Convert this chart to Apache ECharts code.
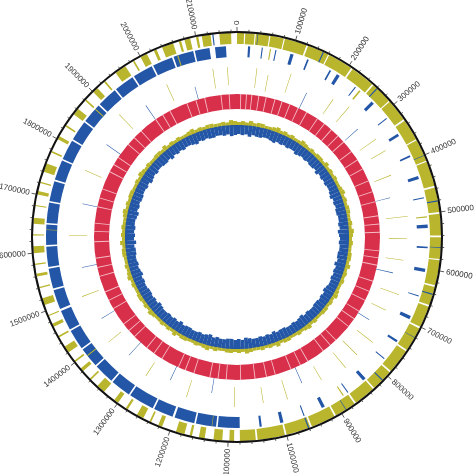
<!DOCTYPE html>
<html><head><meta charset="utf-8">
<script src="https://cdn.jsdelivr.net/npm/echarts@6/dist/echarts.min.js"></script>
<style>html,body{margin:0;padding:0;background:#fff;overflow:hidden}#c{width:100vw;height:100vh}</style>
</head><body><div id="c"></div>
<script>
const genomeLength = 2170000;
const tickValues = [0,100000,200000,300000,400000,500000,600000,700000,800000,900000,1000000,1100000,1200000,1300000,1400000,1500000,1600000,1700000,1800000,1900000,2000000,2100000];
const outerOlive = [[0,12],[14,30],[32,55],[57,80],[82,120],[123,160],[162,205],[208,250],[253,290],[292,330],[333,370],[372,410],[412,455],[458,500],[503,540],[543,580],[582,625],[628,660],[663,700],[703,745],[748,790],[793,830],[833,870],[873,910],[913,955],[958,1000],[1003,1050],[1053,1080],[1090,1098],[1110,1125],[1140,1150],[1162,1166],[1175,1190],[1215,1222],[1235,1238],[1250,1262],[1280,1284],[1300,1308],[1330,1345],[1360,1363],[1380,1386],[1400,1403],[1420,1432],[1450,1453],[1470,1476],[1490,1492],[1510,1522],[1540,1542],[1560,1565],[1580,1582],[1600,1612],[1630,1632],[1650,1660],[1680,1682],[1700,1706],[1720,1722],[1740,1755],[1775,1778],[1800,1806],[1825,1828],[1850,1862],[1880,1883],[1900,1910],[1925,1928],[1950,1970],[1985,1988],[2000,2012],[2025,2030],[2040,2060],[2070,2074],[2080,2090],[2100,2104],[2110,2125],[2140,2160]];
const outerBlue = [[35,36],[150,152],[260,262],[400,401],[480,482],[560,561],[640,642],[720,721],[810,812],[890,891],[960,962],[2128,2130]];
const innerBlue = [[20,24],[45,47],[70,72],[98,104],[130,133],[175,178],[190,196],[230,232],[270,276],[310,312],[345,350],[390,393],[430,436],[470,472],[520,526],[560,563],[600,606],[650,652],[690,696],[740,744],[780,782],[830,836],[870,872],[920,926],[960,962],[1000,1006],[1040,1044],[1080,1120],[1123,1160],[1163,1200],[1204,1240],[1243,1290],[1293,1330],[1333,1370],[1373,1410],[1413,1450],[1453,1490],[1494,1530],[1533,1570],[1573,1610],[1613,1650],[1653,1690],[1693,1730],[1733,1770],[1773,1810],[1813,1850],[1853,1890],[1893,1930],[1933,1970],[1973,2010],[2013,2050],[2053,2090],[2093,2120],[2130,2150]];
const innerOlive = [[60,62],[240,243],[505,507],[880,882],[1130,1131],[1395,1397],[1640,1641],[1880,1882],[2060,2062]];
const scatter = [[40,150,170,0],[65,148,165,0],[110,152,172,0],[155,140,160,1],[210,150,168,0],[245,152,172,0],[290,145,162,1],[330,150,170,0],[360,155,172,0],[410,148,166,0],[455,138,158,1],[500,150,172,0],[545,152,170,0],[590,150,168,0],[620,140,160,1],[660,152,172,0],[700,150,166,0],[735,138,156,1],[770,152,172,0],[810,148,168,0],[845,150,170,0],[900,150,166,0],[940,140,160,1],[980,150,170,0],[1030,152,168,0],[1090,150,170,0],[1140,140,158,1],[1190,150,168,0],[1235,140,158,1],[1285,150,166,0],[1340,140,160,1],[1390,150,166,0],[1440,140,158,1],[1500,148,166,0],[1560,142,158,1],[1630,150,168,0],[1700,140,158,1],[1770,148,166,0],[1840,140,160,1],[1905,150,170,0],[1960,142,160,1],[2020,150,168,0],[2075,138,156,1],[2120,150,170,0],[2150,152,170,0]];
const redGaps = [8,22,35,52,70,92,110,130,152,175,205,226,248,270,290,320,345,370,402,430,455,490,510,530,575,592,610,650,676,700,730,752,775,820,838,860,905,925,950,990,1012,1040,1075,1110,1130,1150,1190,1212,1230,1275,1298,1320,1360,1380,1400,1445,1468,1490,1530,1552,1575,1615,1640,1660,1700,1722,1745,1790,1810,1830,1870,1892,1915,1960,1980,2000,2045,2068,2090,2130,2150];
const gcOlive = [3,4,3,5,3,4,4,3,3,4,5,3,4,3,4,3,3,5,4,3,4,3,4,4,3,5,3,4,3,4,3,3,4,5,3,4,3,4,4,3,3,4,3,5,4,3,4,3,3,4,4,3,5,3,4,3,4,3,3,4,5,3,4,3,4,4,3,3,4,3,5,4,3,4,3,3,4,4,3,5,3,4,3,4,3,3,4,5,3,4,3,4,4,3,3,4,3,5,4,3,4,3,3,4,4,3,5,3,4,3,4,3,3,4,5,3,4,3,4,4,3,3,4,3,5,4,3,4,3,3,4,4,3,5,3,4,3,4,3,3,4,5,3,4,3,4,4,3,3,4,3,5,4,3,4,3,3,4,4,3,5,3,4,3,4,3,3,4,5,3,4,3,4,4,3,3,4,3,5,4];
const gcBlue = [9,10,9,11,9,10,10,9,9,10,11,9,10,9,10,9,9,11,10,9,10,9,10,10,9,11,9,10,9,10,9,9,10,11,9,10,9,10,10,9,9,10,9,11,10,9,10,9,9,10,10,9,11,9,10,9,10,9,9,10,11,9,10,9,10,10,9,9,10,9,11,10,9,10,9,9,10,10,9,11,9,10,9,10,9,9,10,11,9,10,9,10,10,9,9,10,9,11,10,9,10,9,9,10,10,9,11,9,10,9,10,9,9,10,11,9,10,9,10,10,9,9,10,9,11,10,9,10,9,9,10,10,9,11,9,10,9,10,9,9,10,11,9,10,9,10,10,9,9,10,9,11,10,9,10,9,9,10,10,9,11,9,10,9,10,9,9,10,11,9,10,9,10,10,9,9,10,9,11,10];

const OLIVE='#b9b52c', BLUE='#2356a6', RED='#d8304a';
const TAU=Math.PI*2;
function geo(api){
  const c=api.coord([0,0]); const e=api.coord([205,0]);
  return {x:c[0], y:c[1], k:Math.hypot(e[0]-c[0],e[1]-c[1])/205};
}
function ang(bp){ return -Math.PI/2 + bp/genomeLength*TAU; }
function sectorItem(api, s, e, r0, r, color){
  const g=geo(api);
  if (e-s < 600) { e = s+600; }
  return {type:'sector', shape:{cx:g.x,cy:g.y,r0:r0*g.k,r:r*g.k,startAngle:ang(s),endAngle:ang(e),clockwise:true}, style:{fill:color}};
}
function segSeries(arr, r0, r, color){
  return {type:'custom', coordinateSystem:'polar', silent:true, data: arr.map(d=>[d[0]*1000,d[1]*1000]),
    renderItem:(p,api)=>sectorItem(api, api.value(0), api.value(1), r0, r, color)};
}
const series = [];
series.push(segSeries(outerOlive,193,204,OLIVE));
series.push(segSeries(outerBlue,193,204,BLUE));
series.push(segSeries(innerBlue,180,191,BLUE));
series.push(segSeries(innerOlive,180,191,OLIVE));
series.push({type:'custom',coordinateSystem:'polar',silent:true,data:scatter.map(d=>[d[0]*1000,d[1],d[2],d[3]]),
  renderItem:(p,api)=>sectorItem(api, api.value(0), api.value(0)+1200, api.value(1), api.value(2), api.value(3)?BLUE:OLIVE)});
series.push({type:'custom',coordinateSystem:'polar',silent:true,data:[[0,genomeLength]],
  renderItem:(p,api)=>sectorItem(api,0,genomeLength-1,128,143,RED)});
series.push({type:'custom',coordinateSystem:'polar',silent:true,data:redGaps.map(v=>[v*1000]),
  renderItem:(p,api)=>sectorItem(api, api.value(0), api.value(0)+2200, 128, 143, 'rgba(255,235,240,0.75)')});
const bin = genomeLength/gcOlive.length;
series.push({type:'custom',coordinateSystem:'polar',silent:true,data:gcOlive.map((v,i)=>[i*bin,v]),
  renderItem:(p,api)=>sectorItem(api, api.value(0), api.value(0)+bin+200, 110, 112+api.value(1), OLIVE)});
series.push({type:'custom',coordinateSystem:'polar',silent:true,data:gcBlue.map((v,i)=>[i*bin,v]),
  renderItem:(p,api)=>sectorItem(api, api.value(0), api.value(0)+bin+200, 112-api.value(1), 112, BLUE)});
series.push({type:'custom',coordinateSystem:'polar',silent:true,data:[[0]],
  renderItem:(p,api)=>{const g=geo(api);return {type:'circle',shape:{cx:g.x,cy:g.y,r:205*g.k},style:{fill:null,stroke:'#111',lineWidth:2}};}});
const minor=[]; for(let v=0; v<genomeLength; v+=20000) minor.push([v]);
series.push({type:'custom',coordinateSystem:'polar',silent:true,data:minor,
  renderItem:(p,api)=>{const g=geo(api);const a=ang(api.value(0));const major=api.value(0)%100000===0;const l=major?5:2.5;const R=205*g.k;
    return {type:'line',shape:{x1:g.x+R*Math.cos(a),y1:g.y+R*Math.sin(a),x2:g.x+(R+l)*Math.cos(a),y2:g.y+(R+l)*Math.sin(a)},style:{stroke:'#333',lineWidth:0.8}};}});
series.push({type:'custom',coordinateSystem:'polar',silent:true,data:tickValues.map(v=>[v]),
  renderItem:(p,api)=>{const g=geo(api);const a=ang(api.value(0));const R=205*g.k+7;
    const x=g.x+R*Math.cos(a), y=g.y+R*Math.sin(a);
    let rot=-a, align='left';
    const deg=((a*180/Math.PI)%360+360)%360;
    if(deg>90&&deg<270){rot=-a+Math.PI;align='right';}
    return {type:'text',x:x,y:y,rotation:rot,style:{text:String(api.value(0)),fontSize:8,fontFamily:'Liberation Sans, Arial',fill:'#333',align:align,verticalAlign:'middle'}};}});

const chart=echarts.init(document.getElementById('c'),null,{renderer:'canvas'});
chart.setOption({animation:false,
  polar:{center:['50%','50%'],radius:'86.5%'},
  angleAxis:{type:'value',min:0,max:genomeLength,startAngle:90,clockwise:true,show:false},
  radiusAxis:{type:'value',min:0,max:205,show:false},
  series:series});
</script></body></html>
